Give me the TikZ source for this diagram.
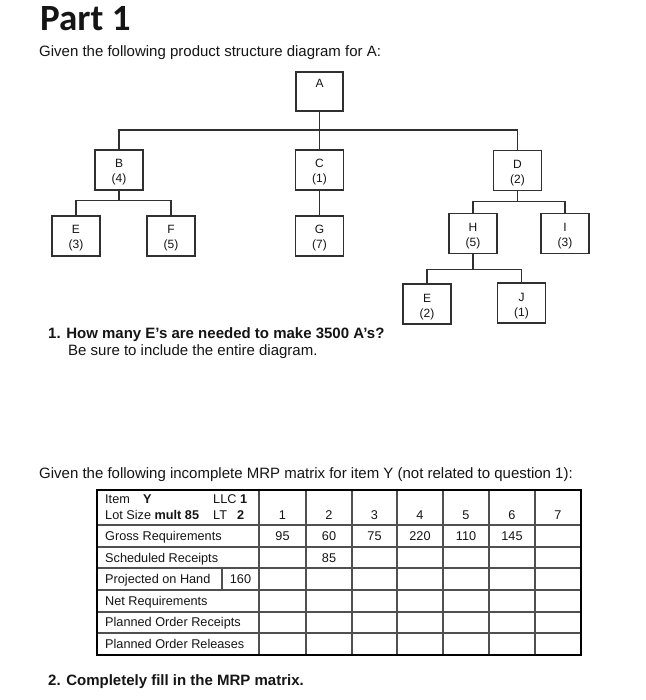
\documentclass[tikz,border=0pt]{standalone}
\usepackage{fontspec}
\setmainfont{Liberation Sans}
\newfontfamily\titlefont{Carlito}
\definecolor{linec}{HTML}{303030}
\definecolor{textc}{HTML}{151515}
\definecolor{gridc}{HTML}{505050}
\begin{document}
\begin{tikzpicture}[x=1pt,y=-1pt,
  box/.style={draw=linec, line width=1.2pt, minimum width=48pt, minimum height=40pt, inner sep=0pt},
  lbl/.style={anchor=base, font=\fontsize{12}{14}\selectfont, text=textc, inner sep=0pt},
  conn/.style={draw=linec, line width=1.2pt},
  txt/.style={anchor=base west, font=\fontsize{15}{18}\selectfont, text=textc, inner sep=0pt},
  txtb/.style={txt, font=\fontsize{15}{18}\selectfont\bfseries},
  cell/.style={anchor=base, font=\fontsize{12.7}{15}\selectfont, text=textc, inner sep=0pt},
  rowlbl/.style={anchor=base west, font=\fontsize{12.7}{15}\selectfont, text=textc, inner sep=0pt},
  tline/.style={draw=gridc, line width=1.3pt},
  outer/.style={draw=black, line width=2pt}]
\useasboundingbox (0,0) rectangle (645,700);
\fill[white] (0,0) rectangle (645,700);

% texts
\node[anchor=base west, inner sep=0pt, text=textc, font=\titlefont\bfseries\fontsize{37}{40}\selectfont] (title) at (40,31) {Part 1};
\node[txt] (intro) at (39,57) {Given the following product structure diagram for A:};
\node[txtb] (q1) at (48,338) {1. How many E’s are needed to make 3500 A’s?};
\node[txt] (q1b) at (68,355) {Be sure to include the entire diagram.};
\node[txt] (intro2) at (39,478) {Given the following incomplete MRP matrix for item Y (not related to question 1):};
\node[txtb] (q2) at (48,685) {2. Completely fill in the MRP matrix.};

% tree boxes
\node[box, minimum width=47pt, minimum height=39pt] (A) at (319.5,91.5) {};
\node[lbl] (Al) at (319.5,88) {A};
\newcommand\treebox[5]{%
  \node[box] (#1) at (#2,#3) {};
  \node[lbl] (#1a) at (#2,#3-2) {#4};
  \node[lbl] (#1b) at (#2,#3+13) {(#5)};}
\treebox{B}{119}{170}{B}{4}
\treebox{C}{319.5}{170}{C}{1}
\treebox{D}{517.5}{170.5}{D}{2}
\treebox{E}{76}{236}{E}{3}
\treebox{F}{171}{236}{F}{5}
\treebox{G}{319.5}{236}{G}{7}
\treebox{H}{473}{233.5}{H}{5}
\treebox{I}{565}{233.5}{I}{3}
\treebox{Etwo}{427}{304}{E}{2}
\treebox{J}{521.5}{303}{J}{1}

% connectors
\draw[conn] (A.south) -- (C.north);
\draw[conn] (A.south) ++(0,18.5) coordinate (barA);
\draw[conn] (B.north) |- (barA) -| (D.north);
\draw[conn] (B.south) -- ++(0,10) coordinate (barB);
\draw[conn] (E.north) |- (barB) -| (F.north);
\draw[conn] (C.south) -- (G.north);
\draw[conn] (D.south) -- ++(0,10.5) coordinate (barD);
\draw[conn] (H.north) |- (barD) -| (I.north);
\draw[conn] (H.south) -- ++(0,15) coordinate (barH);
\draw[conn] (Etwo.north) |- (barH) -| (J.north);

% MRP table grid
\foreach \x in {259,306,352,397,443,489,535} \draw[tline] (\x,490) -- (\x,655);
\foreach \y in {525,547,568,590,612,633} \draw[tline] (97,\y) -- (581,\y);
\draw[tline] (222,568) -- (222,590);
\draw[outer] (97,490) rectangle (581,655);

% header
\node[rowlbl] (hitem) at (105,503) {Item};
\node[rowlbl, font=\fontsize{12.7}{15}\selectfont\bfseries] (hy) at (143,503) {Y};
\node[rowlbl] (hllc) at (213,503) {LLC \textbf{1}};
\node[rowlbl] (hlot) at (105,519) {Lot Size \textbf{mult 85}};
\node[rowlbl] (hlt) at (213,519) {LT};
\node[rowlbl, font=\fontsize{12.7}{15}\selectfont\bfseries] (hlt2) at (237,519) {2};
\foreach \c/\n in {282.5/1,329/2,374.5/3,420/4,466/5,512/6,558/7}
  \node[cell] (col\n) at (\c,519) {\n};

% row labels
\node[rowlbl] (r1) at (105,540) {Gross Requirements};
\node[rowlbl] (r2) at (105,562) {Scheduled Receipts};
\node[rowlbl] (r3) at (105,583) {Projected on Hand};
\node[rowlbl] (r4) at (105,605) {Net Requirements};
\node[rowlbl] (r5) at (105,626) {Planned Order Receipts};
\node[rowlbl] (r6) at (105,648) {Planned Order Releases};

% values
\foreach \c/\v/\k in {282.5/95/1,329/60/2,374.5/75/3,420/220/4,466/110/5,512/145/6}
  \node[cell] (g\k) at (\c,540) {\v};
\node[cell] (s2) at (329,562) {85};
\node[cell] (oh) at (240.5,583) {160};
\end{tikzpicture}
\end{document}
